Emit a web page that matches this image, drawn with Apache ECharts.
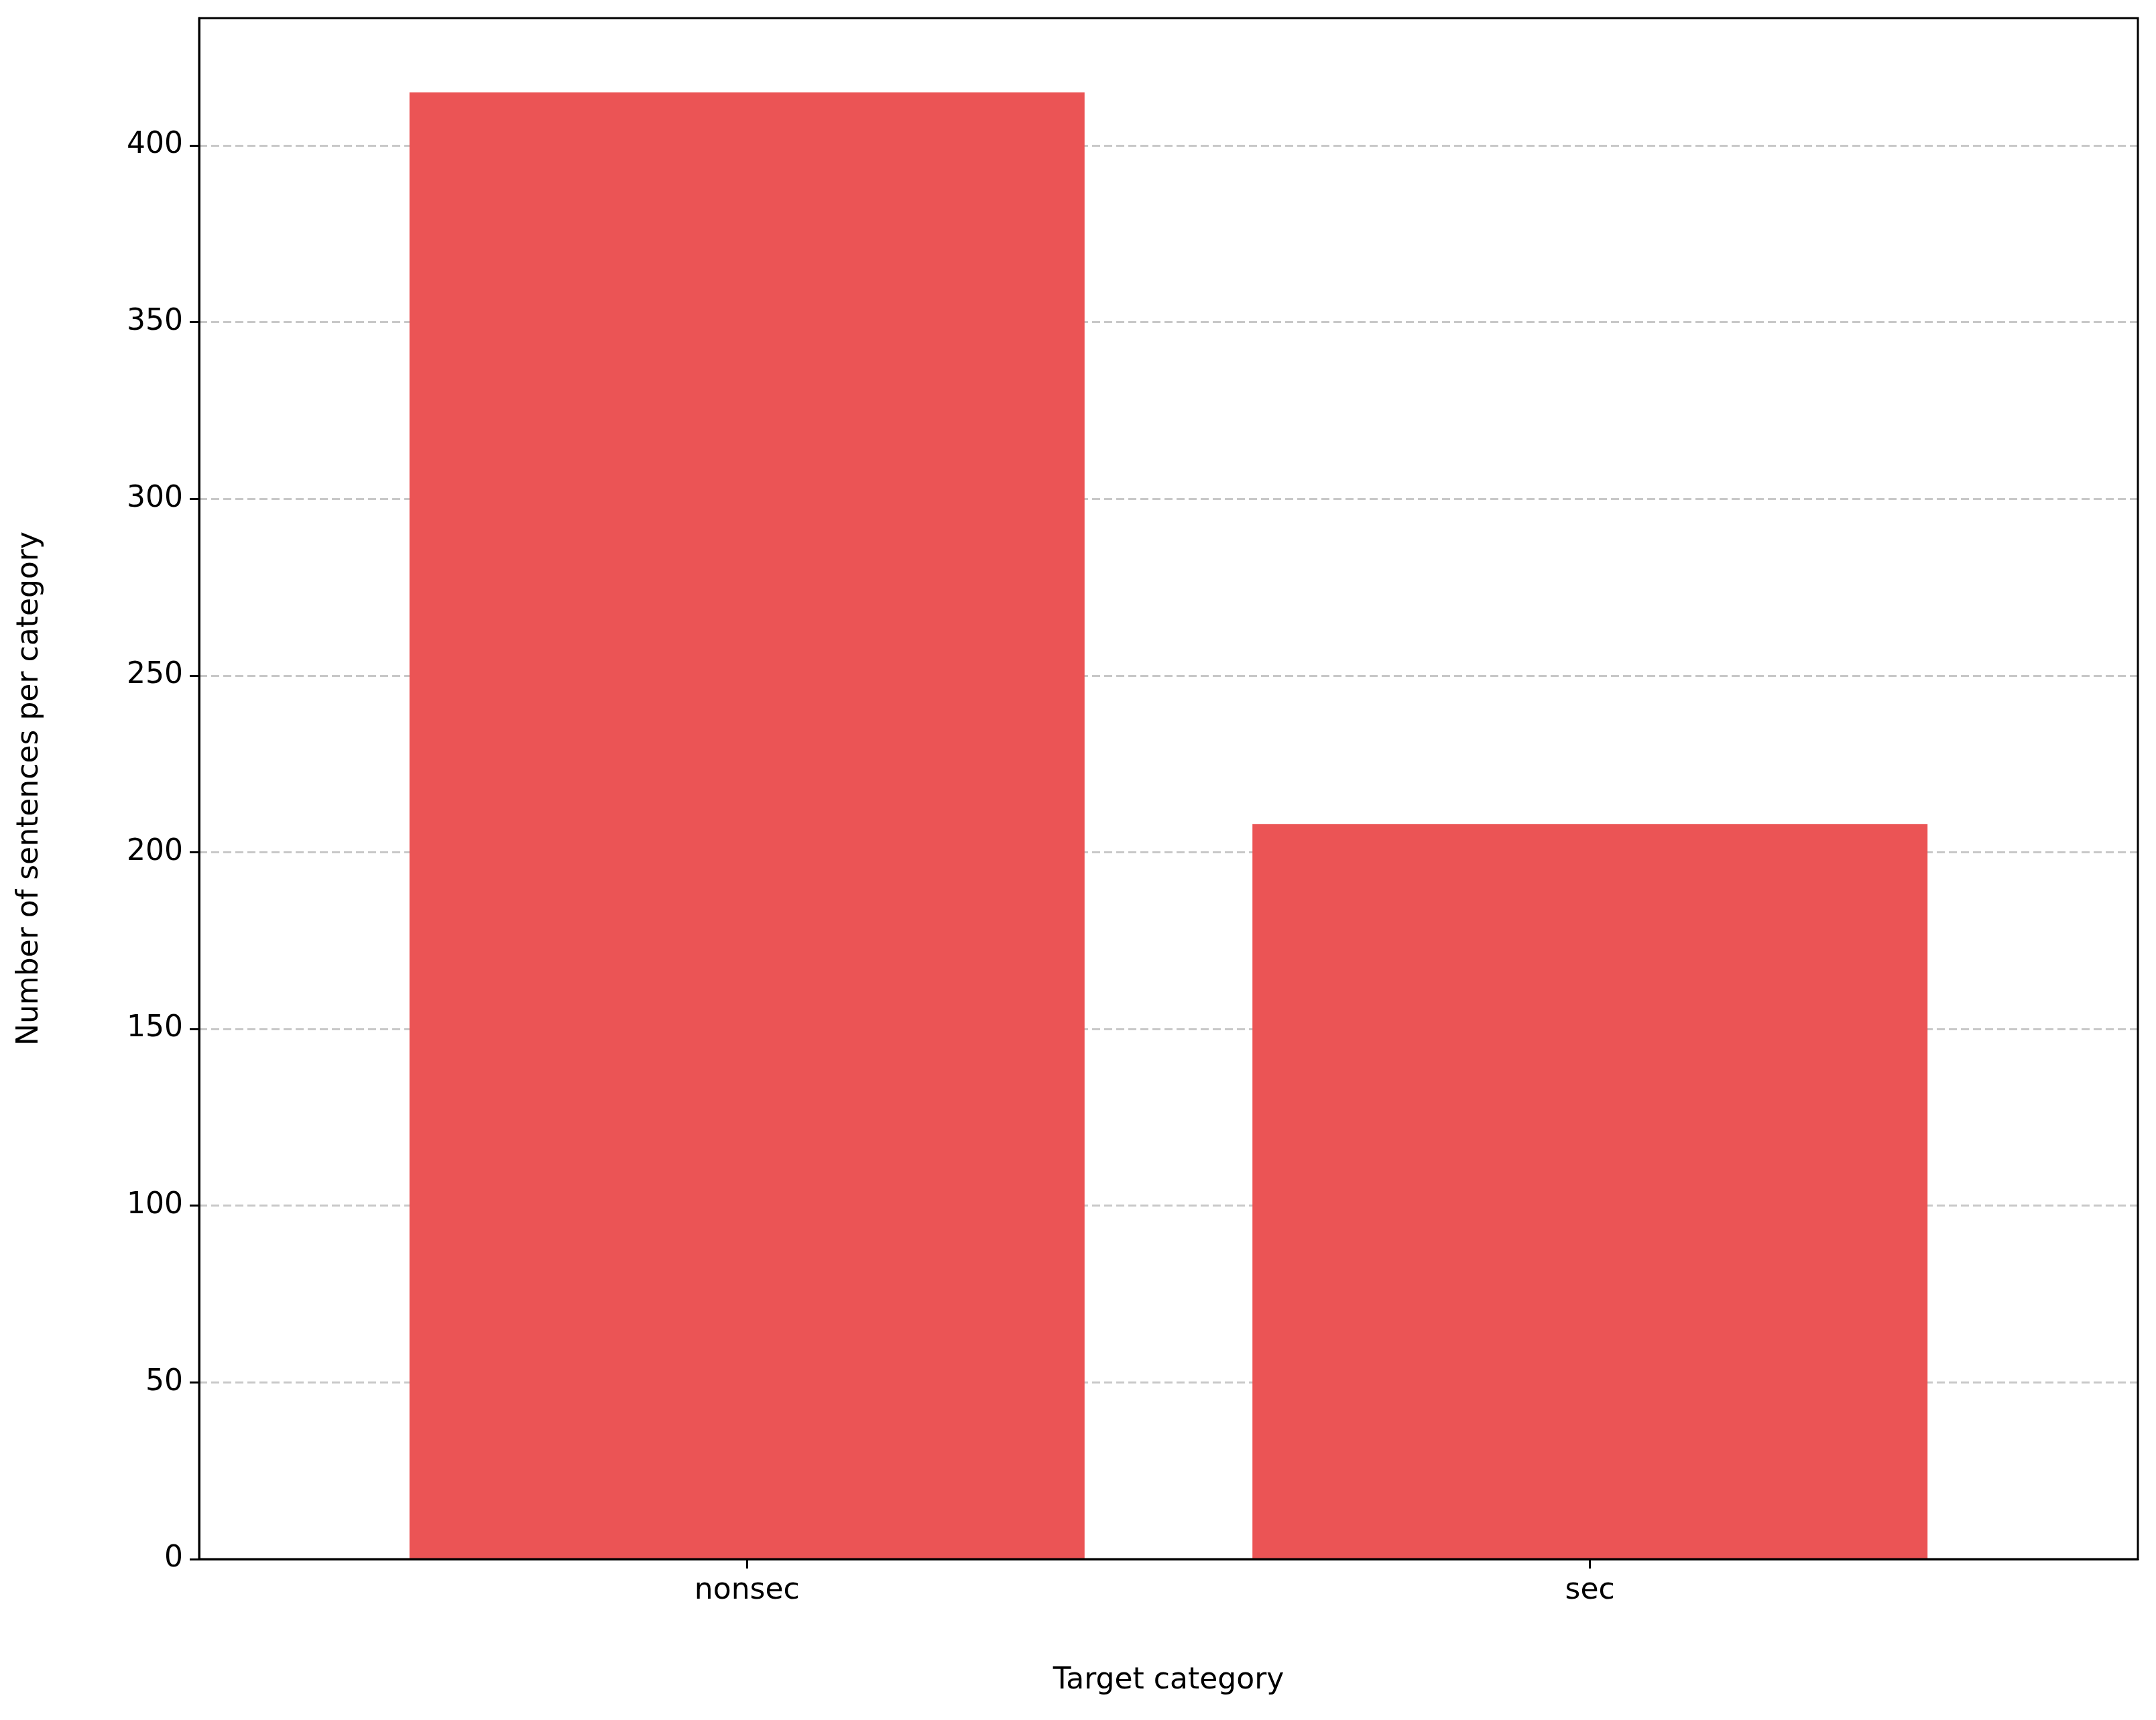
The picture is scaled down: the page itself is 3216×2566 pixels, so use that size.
<!DOCTYPE html>
<html>
<head>
<meta charset="utf-8">
<script src="https://cdn.jsdelivr.net/npm/echarts@6/dist/echarts.min.js"></script>
<style>
  html, body { margin: 0; padding: 0; background: #fff; }
  #chart { width: 3216px; height: 2566px; }
</style>
</head>
<body>
<div id="chart"></div>
<script>
const categories = ['nonsec', 'sec'];
const counts = [415, 208];
const yTicks = [0, 50, 100, 150, 200, 250, 300, 350, 400];

const chart = echarts.init(document.getElementById('chart'));
const font = 'DejaVu Sans';

chart.setOption({
  animation: false,
  backgroundColor: '#fff',
  textStyle: { fontFamily: font },
  grid: { left: 297, right: 27, top: 27, bottom: 240, containLabel: false },
  xAxis: {
    type: 'value',
    min: -0.65,
    max: 1.65,
    name: 'Target category',
    nameLocation: 'middle',
    nameGap: 160,
    nameTextStyle: { fontSize: 44, color: '#000', fontFamily: font },
    splitLine: { show: false },
    axisLine: { show: true, onZero: false, lineStyle: { color: '#000', width: 3 } },
    axisTick: { show: true, length: 14, lineStyle: { color: '#000', width: 3 }, customValues: [0, 1] },
    axisLabel: {
      fontSize: 44, color: '#000', margin: 26,
      customValues: [0, 1],
      formatter: v => categories[Math.round(v)]
    }
  },
  yAxis: {
    type: 'value',
    min: 0,
    max: 436,
    interval: 50,
    name: 'Number of sentences per category',
    nameLocation: 'middle',
    nameGap: 230,
    nameTextStyle: { fontSize: 44, color: '#000', fontFamily: font },
    axisLine: { show: true, onZero: false, lineStyle: { color: '#000', width: 3 } },
    axisTick: { show: true, length: 14, lineStyle: { color: '#000', width: 3 }, customValues: yTicks },
    axisLabel: { fontSize: 44, color: '#000', margin: 24, customValues: yTicks },
    splitLine: { show: true, lineStyle: { color: '#c8c8c8', type: [12, 6], width: 3 } }
  },
  series: [{
    type: 'bar',
    data: counts.map((v, i) => [i, v]),
    barWidth: 1007,
    itemStyle: { color: '#eb5455' }
  }],
  graphic: [{
    type: 'rect',
    shape: { x: 297, y: 27, width: 3216 - 297 - 27, height: 2566 - 27 - 240 },
    style: { fill: 'none', stroke: '#000', lineWidth: 3 },
    z: 100
  }]
});
</script>
</body>
</html>
